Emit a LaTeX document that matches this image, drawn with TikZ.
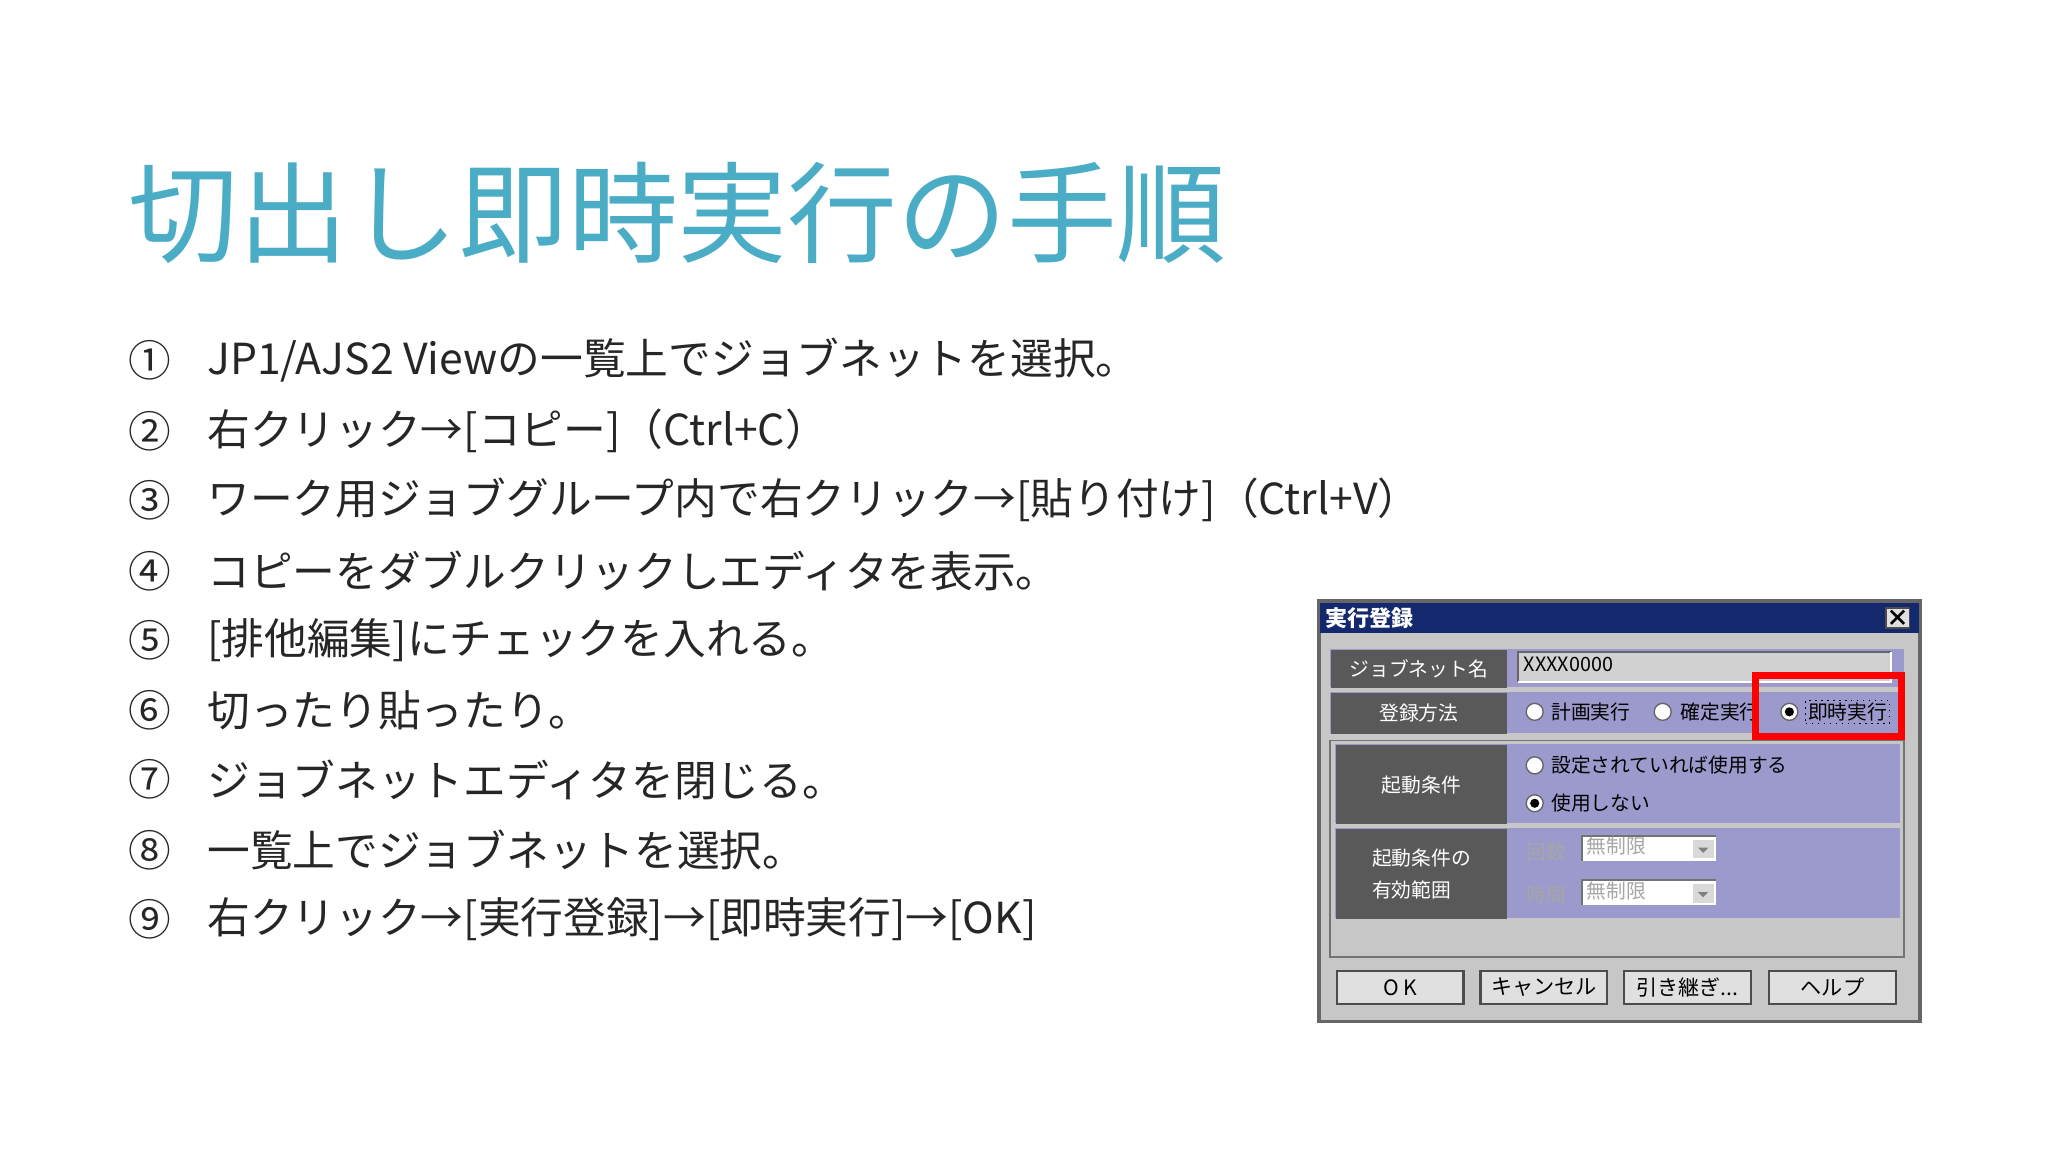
\documentclass[tikz,border=0pt]{standalone}
\usepackage{fontspec}
\setmainfont{Noto Sans CJK JP}
\definecolor{teal1}{RGB}{75,172,198}
\definecolor{navy}{RGB}{20,40,110}
\definecolor{lav}{RGB}{156,154,205}
\begin{document}
\begin{tikzpicture}[x=0.01cm,y=-0.01cm,
  listitem/.style={anchor=west,inner sep=0pt,font=\fontsize{9.3pt}{11pt}\selectfont,text=black!85},
  dlab/.style={fill=black!65,draw=none,text=white,font=\fontsize{4.3pt}{5pt}\selectfont},
  dtxt/.style={anchor=west,inner sep=0pt,font=\fontsize{4.3pt}{5pt}\selectfont},
  btn/.style={fill=black!12,draw=black!70,line width=0.5pt,font=\fontsize{4.6pt}{5pt}\selectfont,minimum width=0.97cm,minimum height=0.25cm,inner sep=0pt},
  radio/.style={circle,fill=white,draw=black!60,line width=0.3pt,minimum size=0.13cm,inner sep=0pt}]
\useasboundingbox (0,0) rectangle (1568,882);
\fill[white] (0,0) rectangle (1568,882);
\node[anchor=west,inner sep=0pt,text=teal1,font=\fontsize{23.9pt}{28pt}\selectfont] (title) at (98,163) {切出し即時実行の手順};
\foreach \n/\y/\t in {1/276/{JP1/AJS2 Viewの一覧上でジョブネットを選択。},
  2/330/{右クリック→[コピー]（Ctrl+C）},
  3/383/{ワーク用ジョブグループ内で右クリック→[貼り付け]（Ctrl+V）},
  4/437/{コピーをダブルクリックしエディタを表示。},
  5/490/{[排他編集]にチェックを入れる。},
  6/544/{切ったり貼ったり。},
  7/597/{ジョブネットエディタを閉じる。},
  8/651/{一覧上でジョブネットを選択。},
  9/704/{右クリック→[実行登録]→[即時実行]→[OK]}}{
  \node[listitem] (num\n) at (98,\y) {\ifcase\n\or ①\or ②\or ③\or ④\or ⑤\or ⑥\or ⑦\or ⑧\or ⑨\fi};
  \node[listitem] (item\n) at (158,\y) {\t};
}
% dialog
\fill[black!22] (1010,460) rectangle (1470,782);
\draw[black!60,line width=0.8pt] (1010,460) rectangle (1470,782);
\fill[navy] (1011,462) rectangle (1469,485);
\node[anchor=west,inner sep=0pt,text=white,font=\bfseries\fontsize{4.8pt}{5pt}\selectfont] (dtitle) at (1014,473) {実行登録};
\node[fill=black!12,draw=black!70,minimum width=0.18cm,minimum height=0.15cm,inner sep=0pt,font=\fontsize{5pt}{5pt}\selectfont] (close) at (1453,473) {\textbf{×}};
% row 1
\fill[lav] (1018,497) rectangle (1458,526);
\node[dlab,anchor=north west,minimum width=1.35cm,minimum height=0.29cm,inner sep=0pt] (l1) at (1018,497) {ジョブネット名};
\fill[black!18] (1162,499) rectangle (1448,522);
\draw[black!60] (1162,522) -- (1162,499) -- (1448,499);
\draw[white] (1162,522) -- (1448,522) -- (1448,499);
\node[dtxt] (xx) at (1166,509) {XXXX0000};
% row 2
\fill[lav] (1018,530) rectangle (1458,561);
\node[dlab,anchor=north west,minimum width=1.35cm,minimum height=0.31cm,inner sep=0pt] (l2) at (1018,530) {登録方法\hspace{3.5em}};
\node[radio] (r1) at (1175,545) {}; \node[dtxt] (t1) at (1187,545) {計画実行};
\node[radio] (r2) at (1273,545) {}; \node[dtxt] (t2) at (1286,545) {確定実行};
\node[radio] (r3) at (1370,545) {}; \fill[black] (r3) circle (3.5);
\node[dtxt,draw=black,densely dotted,line width=0.3pt,inner sep=0.5pt] (t3) at (1382,545) {即時実行};
\draw[red,line width=1.5pt] (1344,517) rectangle (1456,564);
% group
\draw[black!55] (1018,567) rectangle (1458,733);
\fill[lav] (1022,570) rectangle (1455,630);
\node[dlab,anchor=north west,minimum width=1.31cm,minimum height=0.6cm,inner sep=0pt] (l3) at (1022,570) {起動条件\hspace{3em}};
\node[radio] (r4) at (1175,586) {}; \node[dtxt] (t4) at (1187,586) {設定されていれば使用する};
\node[radio] (r5) at (1175,615) {}; \fill[black] (r5) circle (3.5); \node[dtxt] (t5) at (1187,615) {使用しない};
\fill[lav] (1022,634) rectangle (1455,703);
\node[dlab,anchor=north west,minimum width=1.31cm,minimum height=0.69cm,inner sep=0pt,align=left] (l4) at (1022,634) {起動条件の\\[2pt]有効範囲\hspace{1.2em}};
\node[dtxt,text=black!35] (k1) at (1168,652) {回数};
\node[dtxt,text=black!35] (k2) at (1168,685) {時間};
\foreach \yy/\nm in {640/c1,674/c2}{
  \fill[white] (1211,\yy) rectangle (1314,\yy+19);
  \draw[black!55] (1211,\yy+19) -- (1211,\yy) -- (1314,\yy);
  \fill[black!15] (1296,\yy+3) rectangle (1312,\yy+17);
  \node[dtxt,text=black!35] (\nm) at (1214,\yy+8) {無制限};
  \fill[black!50] (1300,\yy+9) -- (1308,\yy+9) -- (1304,\yy+13) -- cycle;
}
% buttons
\node[btn] (ok) at (1072,756) {O K};
\node[btn] (cancel) at (1182,756) {キャンセル};
\node[btn] (inherit) at (1292,756) {引き継ぎ...};
\node[btn] (help) at (1403,756) {ヘルプ};
\end{tikzpicture}
\end{document}
